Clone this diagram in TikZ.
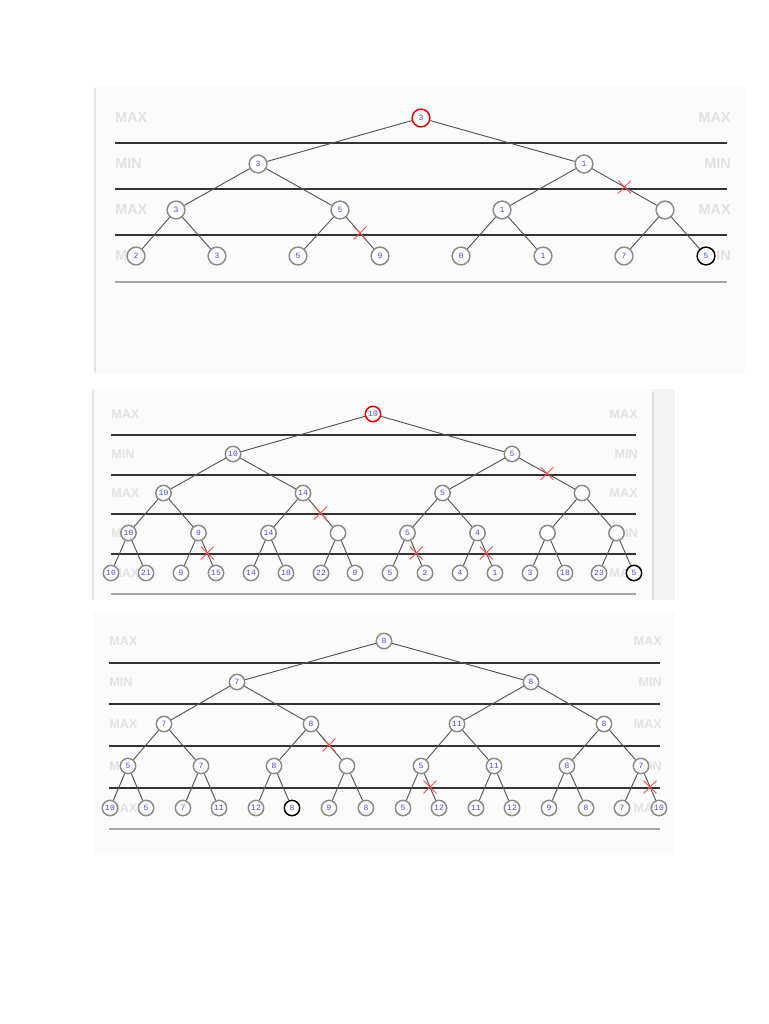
\documentclass[tikz,border=0pt]{standalone}
\usepackage{fontspec}
\setmainfont{Liberation Sans}
\newfontfamily\numfont{Liberation Mono}
\usetikzlibrary{shapes.misc}
\definecolor{panelbg}{HTML}{FBFBFB}
\definecolor{stripbg}{HTML}{F3F3F3}
\definecolor{labelgray}{HTML}{E2E2E2}
\definecolor{numblue}{HTML}{4646F0}
\definecolor{ringgray}{HTML}{8A8A8A}
\definecolor{edgegray}{HTML}{555555}
\definecolor{rulegray}{HTML}{333333}
\begin{document}
\begin{tikzpicture}[x=0.75pt,y=-0.75pt,
    val/.style={circle, draw=ringgray, line width=1.1pt, fill=white, inner sep=0pt,
        minimum size=#1, font=\numfont\fontsize{6}{6}\selectfont, text=numblue},
    val/.default=11.5pt,
    best/.style={draw=red!90!black},
    found/.style={draw=black},
    link/.style={draw=edgegray, line width=0.7pt},
    cut/.style={draw=red!70, cross out, line width=0.7pt, minimum size=9pt, inner sep=0pt},
    ply/.style={draw=rulegray, line width=1.1pt},
    lastply/.style={draw=gray!70, line width=1.4pt},
    plylabel/.style={text=labelgray, font=\bfseries\fontsize{#1}{#1}\selectfont, inner sep=0pt},
]
\useasboundingbox (0,0) rectangle (768,1024);

% first search
\fill[panelbg] (93,86) rectangle (745,374);
\draw[gray!20, line width=1pt] (95,88) -- (95,372);
\draw[ply] (115,143) -- (727,143);
\draw[ply] (115,189) -- (727,189);
\draw[ply] (115,235) -- (727,235);
\draw[lastply] (115,282) -- (727,282);
\node[plylabel=10.8, anchor=west] (a1) at (115,118) {MAX};
\node[plylabel=10.8, anchor=west] (a2) at (115,164) {MIN};
\node[plylabel=10.8, anchor=west] (a3) at (115,210) {MAX};
\node[plylabel=10.8, anchor=west] (a4) at (115,256) {MIN};
\node[plylabel=10.8, anchor=east] (b1) at (731,118) {MAX};
\node[plylabel=10.8, anchor=east] (b2) at (731,164) {MIN};
\node[plylabel=10.8, anchor=east] (b3) at (731,210) {MAX};
\node[plylabel=10.8, anchor=east] (b4) at (731,256) {MIN};
\node[val=13.3pt, best] (t1) at (421,118) {3};
\node[val=13.3pt] (t1l) at (258,164) {3};
\node[val=13.3pt] (t1r) at (584,164) {1};
\node[val=13.3pt] (t1ll) at (176,210) {3};
\node[val=13.3pt] (t1lr) at (340,210) {5};
\node[val=13.3pt] (t1rl) at (502,210) {1};
\node[val=13.3pt] (t1rr) at (665,210) {};
\node[val=13.3pt] (t1lll) at (136,256) {2};
\node[val=13.3pt] (t1llr) at (217,256) {3};
\node[val=13.3pt] (t1lrl) at (298,256) {5};
\node[val=13.3pt] (t1lrr) at (380,256) {9};
\node[val=13.3pt] (t1rll) at (461,256) {0};
\node[val=13.3pt] (t1rlr) at (543,256) {1};
\node[val=13.3pt] (t1rrl) at (624,256) {7};
\node[val=13.3pt, found] (t1rrr) at (706,256) {5};
\foreach \a/\b in {t1/t1l, t1/t1r, t1l/t1ll, t1l/t1lr, t1r/t1rl,
    t1ll/t1lll, t1ll/t1llr, t1lr/t1lrl, t1rl/t1rll, t1rl/t1rlr, t1rr/t1rrl, t1rr/t1rrr}
    \draw[link] (\a) -- (\b);
\draw[link] (t1lr) -- node[cut] (x1) {} (t1lrr);
\draw[link] (t1r) -- node[cut] (x2) {} (t1rr);

% second search
\fill[panelbg] (93,389) rectangle (652,600);
\fill[stripbg] (652,389) rectangle (675,600);
\draw[gray!20, line width=1pt] (93,389) -- (93,600);
\draw[gray!25, line width=0.8pt] (653,392) -- (653,600);
\draw[ply] (111,435) -- (636,435);
\draw[ply] (111,475) -- (636,475);
\draw[ply] (111,514) -- (636,514);
\draw[ply] (111,554) -- (636,554);
\draw[lastply] (111,594) -- (636,594);
\node[plylabel=9.5, anchor=west] (c1) at (111,414) {MAX};
\node[plylabel=9.5, anchor=west] (c2) at (111,454) {MIN};
\node[plylabel=9.5, anchor=west] (c3) at (111,493) {MAX};
\node[plylabel=9.5, anchor=west] (c4) at (111,533) {MIN};
\node[plylabel=9.5, anchor=west] (c5) at (111,573) {MAX};
\node[plylabel=9.5, anchor=east] (d1) at (638,414) {MAX};
\node[plylabel=9.5, anchor=east] (d2) at (638,454) {MIN};
\node[plylabel=9.5, anchor=east] (d3) at (638,493) {MAX};
\node[plylabel=9.5, anchor=east] (d4) at (638,533) {MIN};
\node[plylabel=9.5, anchor=east] (d5) at (638,573) {MAX};
\node[val, best] (t2) at (373,414) {10};
\node[val] (t2l) at (233,454) {10};
\node[val] (t2r) at (512,454) {5};
\node[val] (t2ll) at (163.5,493) {10};
\node[val] (t2lr) at (303,493) {14};
\node[val] (t2rl) at (442.5,493) {5};
\node[val] (t2rr) at (582,493) {};
\node[val] (t2lll) at (128.5,533) {10};
\node[val] (t2llr) at (198.5,533) {9};
\node[val] (t2lrl) at (268.5,533) {14};
\node[val] (t2lrr) at (338,533) {};
\node[val] (t2rll) at (407.5,533) {5};
\node[val] (t2rlr) at (477.5,533) {4};
\node[val] (t2rrl) at (547.5,533) {};
\node[val] (t2rrr) at (616.5,533) {};
\node[val] (t2llll) at (111,573) {10};
\node[val] (t2lllr) at (146,573) {21};
\node[val] (t2llrl) at (181,573) {9};
\node[val] (t2llrr) at (216,573) {15};
\node[val] (t2lrll) at (251,573) {14};
\node[val] (t2lrlr) at (286,573) {18};
\node[val] (t2lrrl) at (321,573) {22};
\node[val] (t2lrrr) at (355,573) {9};
\node[val] (t2rlll) at (390,573) {5};
\node[val] (t2rllr) at (425,573) {2};
\node[val] (t2rlrl) at (460,573) {4};
\node[val] (t2rlrr) at (495,573) {1};
\node[val] (t2rrll) at (530,573) {3};
\node[val] (t2rrlr) at (565,573) {18};
\node[val] (t2rrrl) at (599,573) {23};
\node[val, found] (t2rrrr) at (634,573) {5};
\foreach \a/\b in {t2/t2l, t2/t2r, t2l/t2ll, t2l/t2lr, t2r/t2rl, t2rr/t2rrl, t2rr/t2rrr,
    t2ll/t2lll, t2ll/t2llr, t2lr/t2lrl, t2rl/t2rll, t2rl/t2rlr,
    t2lll/t2llll, t2lll/t2lllr, t2llr/t2llrl, t2lrl/t2lrll, t2lrl/t2lrlr,
    t2lrr/t2lrrl, t2lrr/t2lrrr, t2rll/t2rlll, t2rlr/t2rlrl,
    t2rrl/t2rrll, t2rrl/t2rrlr, t2rrr/t2rrrl, t2rrr/t2rrrr}
    \draw[link] (\a) -- (\b);
\draw[link] (t2r) -- node[cut] (x3) {} (t2rr);
\draw[link] (t2lr) -- node[cut] (x4) {} (t2lrr);
\draw[link] (t2llr) -- node[cut] (x5) {} (t2llrr);
\draw[link] (t2rll) -- node[cut] (x6) {} (t2rllr);
\draw[link] (t2rlr) -- node[cut] (x7) {} (t2rlrr);

% third search
\fill[panelbg] (93,613) rectangle (675,855);
\draw[ply] (109,663) -- (660,663);
\draw[ply] (109,704) -- (660,704);
\draw[ply] (109,746) -- (660,746);
\draw[ply] (109,788) -- (660,788);
\draw[lastply] (109,829) -- (660,829);
\node[plylabel=9.5, anchor=west] (e1) at (109,641) {MAX};
\node[plylabel=9.5, anchor=west] (e2) at (109,682) {MIN};
\node[plylabel=9.5, anchor=west] (e3) at (109,724) {MAX};
\node[plylabel=9.5, anchor=west] (e4) at (109,766) {MIN};
\node[plylabel=9.5, anchor=west] (e5) at (109,808) {MAX};
\node[plylabel=9.5, anchor=east] (f1) at (662,641) {MAX};
\node[plylabel=9.5, anchor=east] (f2) at (662,682) {MIN};
\node[plylabel=9.5, anchor=east] (f3) at (662,724) {MAX};
\node[plylabel=9.5, anchor=east] (f4) at (662,766) {MIN};
\node[plylabel=9.5, anchor=east] (f5) at (662,808) {MAX};
\node[val] (t3) at (384,641) {8};
\node[val] (t3l) at (237,682) {7};
\node[val] (t3r) at (531,682) {8};
\node[val] (t3ll) at (164,724) {7};
\node[val] (t3lr) at (311,724) {8};
\node[val] (t3rl) at (457,724) {11};
\node[val] (t3rr) at (604,724) {8};
\node[val] (t3lll) at (128,766) {5};
\node[val] (t3llr) at (201,766) {7};
\node[val] (t3lrl) at (274,766) {8};
\node[val] (t3lrr) at (347,766) {};
\node[val] (t3rll) at (421,766) {5};
\node[val] (t3rlr) at (494,766) {11};
\node[val] (t3rrl) at (567,766) {8};
\node[val] (t3rrr) at (641,766) {7};
\node[val] (t3llll) at (110,808) {10};
\node[val] (t3lllr) at (146,808) {5};
\node[val] (t3llrl) at (183,808) {7};
\node[val] (t3llrr) at (219,808) {11};
\node[val] (t3lrll) at (256,808) {12};
\node[val, found] (t3lrlr) at (292,808) {8};
\node[val] (t3lrrl) at (329,808) {9};
\node[val] (t3lrrr) at (366,808) {8};
\node[val] (t3rlll) at (403,808) {5};
\node[val] (t3rllr) at (439,808) {12};
\node[val] (t3rlrl) at (476,808) {11};
\node[val] (t3rlrr) at (512,808) {12};
\node[val] (t3rrll) at (549,808) {9};
\node[val] (t3rrlr) at (586,808) {8};
\node[val] (t3rrrl) at (622,808) {7};
\node[val] (t3rrrr) at (659,808) {10};
\foreach \a/\b in {t3/t3l, t3/t3r, t3l/t3ll, t3l/t3lr, t3r/t3rl, t3r/t3rr,
    t3ll/t3lll, t3ll/t3llr, t3lr/t3lrl, t3rl/t3rll, t3rl/t3rlr, t3rr/t3rrl, t3rr/t3rrr,
    t3lll/t3llll, t3lll/t3lllr, t3llr/t3llrl, t3llr/t3llrr, t3lrl/t3lrll, t3lrl/t3lrlr,
    t3lrr/t3lrrl, t3lrr/t3lrrr, t3rll/t3rlll, t3rlr/t3rlrl, t3rlr/t3rlrr,
    t3rrl/t3rrll, t3rrl/t3rrlr, t3rrr/t3rrrl}
    \draw[link] (\a) -- (\b);
\draw[link] (t3lr) -- node[cut] (x8) {} (t3lrr);
\draw[link] (t3rll) -- node[cut] (x9) {} (t3rllr);
\draw[link] (t3rrr) -- node[cut] (x10) {} (t3rrrr);
\end{tikzpicture}
\end{document}
